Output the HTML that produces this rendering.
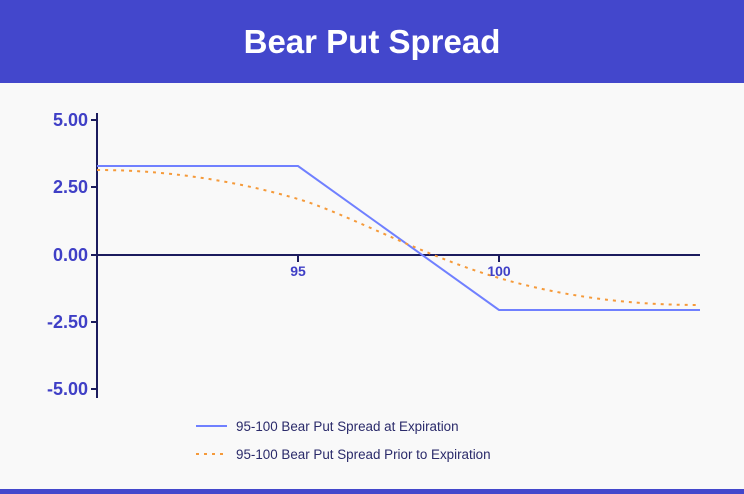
<!DOCTYPE html>
<html><head><style>
html,body{margin:0;padding:0;width:744px;height:494px;overflow:hidden;background:#f9f9f9;font-family:"Liberation Sans",sans-serif;}
.hdr{position:absolute;left:0;top:0;width:744px;height:83px;background:#4347cc;color:#fff;font-weight:bold;font-size:33px;text-align:center;line-height:83px;}
.ftr{position:absolute;left:0;top:489px;width:744px;height:5px;background:#4347cc;}
svg{position:absolute;left:0;top:0;}
</style></head><body>
<div class="hdr">Bear Put Spread</div>
<svg width="744" height="494">
<g stroke="#1c1c5e" stroke-width="2">
<line x1="97" y1="113" x2="97" y2="398"/>
<line x1="97" y1="255" x2="700" y2="255"/>
<line x1="91" y1="120" x2="97" y2="120"/>
<line x1="91" y1="187" x2="97" y2="187"/>
<line x1="91" y1="255" x2="97" y2="255"/>
<line x1="91" y1="322" x2="97" y2="322"/>
<line x1="91" y1="389" x2="97" y2="389"/>
<line x1="298" y1="255" x2="298" y2="262"/>
<line x1="499" y1="255" x2="499" y2="262"/>
</g>
<g fill="#3f3fc6" font-weight="bold" font-size="18" text-anchor="end">
<text x="88" y="126">5.00</text>
<text x="88" y="193">2.50</text>
<text x="88" y="261">0.00</text>
<text x="88" y="328">-2.50</text>
<text x="88" y="395">-5.00</text>
</g>
<g fill="#3f3fc6" font-weight="bold" font-size="14" text-anchor="middle">
<text x="298" y="276">95</text>
<text x="499" y="276">100</text>
</g>
<polyline points="97,166 298,166 499,310 700,310" fill="none" stroke="#7080ff" stroke-width="2"/>
<path d="M97,170 C180,170 250,185 298,199 S420,255 499,278 S650,305 700,305" fill="none" stroke="#f59a3a" stroke-width="2" stroke-dasharray="3,5"/>
<line x1="196" y1="426" x2="227" y2="426" stroke="#7080ff" stroke-width="2"/>
<line x1="196" y1="454" x2="227" y2="454" stroke="#f59a3a" stroke-width="2" stroke-dasharray="3,5"/>
<g fill="#2a2a6a" font-size="13.4">
<text x="236" y="431">95-100 Bear Put Spread at Expiration</text>
<text x="236" y="459">95-100 Bear Put Spread Prior to Expiration</text>
</g>
</svg>
<div class="ftr"></div>
</body></html>
